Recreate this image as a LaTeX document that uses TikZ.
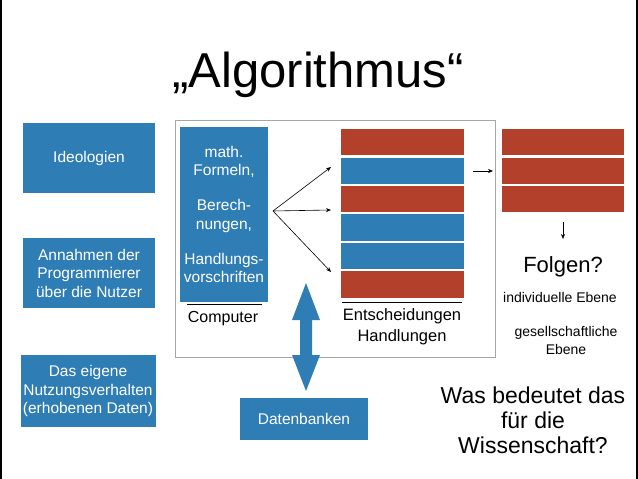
\documentclass[tikz,border=0pt]{standalone}
\usepackage{fontspec}
\setmainfont{Liberation Sans}
\usetikzlibrary{arrows.meta}
\definecolor{bb}{HTML}{2F7DB5}
\definecolor{rr}{HTML}{B3402B}
\begin{document}
\begin{tikzpicture}[x=1pt,y=-1pt,
  bbox/.style={fill=bb,draw=none,text=white,font=\fontsize{15.5}{18.5}\selectfont,align=center,inner sep=0pt},
  stripe/.style={fill=rr,draw=none},
  bstripe/.style={fill=bb,draw=none},
  lbl/.style={font=\fontsize{16}{19}\selectfont,align=center,inner sep=0pt},
  arr/.style={-{Stealth[length=5pt,width=4pt]},line width=0.6pt}]
\useasboundingbox (0,0) rectangle (638,479);
\fill[black] (0,0) rectangle (2,479);
\fill[black] (636,0) rectangle (638,479);
\node[font=\fontsize{49}{52}\selectfont] (title) at (318,75) {„Algorithmus“};
\draw[gray!70,line width=0.8pt] (175,120) rectangle (495,357);
\node[bbox,minimum width=132,minimum height=70] (ideo) at (89,158) {Ideologien};
\node[bbox,minimum width=132,minimum height=70] (ann) at (89,273) {Annahmen der\\Programmierer\\über die Nutzer};
\node[bbox,minimum width=135,minimum height=72] (nutz) at (88,391) {Das eigene\\Nutzungsverhalten\\(erhobenen Daten)};
\node[bbox,minimum width=88,minimum height=175] (math) at (224,214.5) {math.\\Formeln,\\[16.5pt]Berech-\\nungen,\\[16.5pt]Handlungs-\\vorschriften};
\draw[line width=0.6pt] (187,304) -- (262,304);
\node[lbl] (comp) at (223,319) {Computer};
\coordinate (o) at (273,211);
\coordinate (e1) at (331,167);
\coordinate (e2) at (331,210);
\coordinate (e3) at (331,272);
\draw[arr] (o) -- (e1);
\draw[arr] (o) -- (e2);
\draw[arr] (o) -- (e3);
\fill[stripe] (341,129) rectangle (464,155);
\fill[bstripe] (341,158) rectangle (464,184);
\fill[stripe] (341,186) rectangle (464,212);
\fill[bstripe] (341,214) rectangle (464,241);
\fill[bstripe] (341,243) rectangle (464,269);
\fill[stripe] (341,271) rectangle (464,298);
\draw[line width=0.6pt] (342,302) -- (462,302);
\node[lbl,font=\fontsize{16.5}{21}\selectfont] (ent) at (402,327) {Entscheidungen\\Handlungen};
\fill[stripe] (502,129) rectangle (624,155);
\fill[stripe] (502,158) rectangle (624,184);
\fill[stripe] (502,186) rectangle (624,212);
\coordinate (a1) at (473,171);
\coordinate (a2) at (493,171);
\draw[arr] (a1) -- (a2);
\coordinate (d1) at (563,222);
\coordinate (d2) at (563,239);
\draw[arr] (d1) -- (d2);
\node[lbl,font=\fontsize{22}{25}\selectfont] (folgen) at (563,267) {Folgen?};
\node[lbl,font=\fontsize{14}{16}\selectfont] (ind) at (560,297) {individuelle Ebene};
\node[lbl,font=\fontsize{14}{18}\selectfont] (ges) at (566,340) {gesellschaftliche\\Ebene};
\node[lbl,font=\fontsize{23}{25}\selectfont] (was) at (533,420) {Was bedeutet das\\für die\\Wissenschaft?};
\node[bbox,minimum width=128,minimum height=42] (db) at (304,419) {Datenbanken};
\fill[bb] (306,283) -- (320,320) -- (312,320) -- (312,355) -- (320,355) -- (306,391) -- (292,355) -- (300,355) -- (300,320) -- (292,320) -- cycle;
\end{tikzpicture}
\end{document}
